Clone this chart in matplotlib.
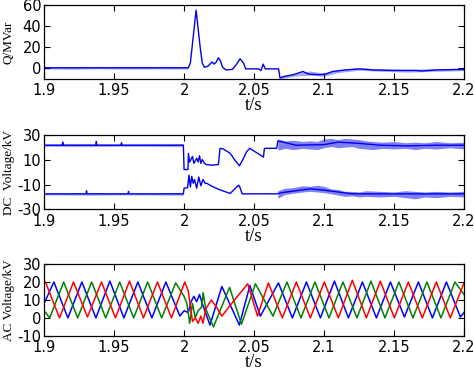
import matplotlib
matplotlib.use("Agg")
import matplotlib.pyplot as plt

# ---- reactive power Q (MVar) ----
q_t = [1.9, 1.95, 2.003,
       2.0045, 2.0086, 2.0115, 2.013, 2.0145, 2.017, 2.020, 2.0215, 2.023,
       2.0245, 2.026, 2.0275, 2.030, 2.0345, 2.037, 2.040, 2.0425, 2.044,
       2.053, 2.055, 2.0565, 2.058, 2.0675, 2.0685, 2.072, 2.078, 2.085,
       2.089, 2.097, 2.101, 2.106, 2.115, 2.125, 2.135, 2.15, 2.165, 2.17,
       2.18, 2.2]
q_v = [0.5, 0.5, 0.5,
       5, 55, 20, 5, 1, 2, 6, 4, 6,
       10, 7, 1, -1.5, -1, 3, 9, 5, -0.5,
       -0.5, -2, 4, -0.5, -0.5, -9, -7.5, -6, -3,
       -5.5, -6, -5.5, -3, -1.5, -0.5, -1.5, -2, -2, -2.5,
       -1.5, -1]
# noise envelope of the Q trace
q_noise_t = [1.9, 1.92, 1.94, 1.96, 1.98, 2.003]
q_noise_hi = [1.8, 1.6, 1.9, 1.5, 1.8, 1.6]
q_noise_lo = [-0.6, -0.8, -0.5, -0.7, -0.6, -0.6]
q_noise2_t = [2.068, 2.08, 2.09, 2.1, 2.11, 2.125, 2.14, 2.16, 2.18, 2.2]
q_noise2_hi = [-7.5, -5, -2.5, -4.5, -1.5, 0.5, -0.5, -0.8, -0.3, 0.2]
q_noise2_lo = [-10, -7.2, -6.5, -7.5, -4, -1.8, -2.8, -3.6, -2.8, -2.2]

# ---- DC voltages (kV) ----
dcp_t = [1.9, 1.913, 1.9133, 1.9137, 1.937, 1.9373, 1.9377, 1.955, 1.9553,
         1.9557, 1.9995, 2.0, 2.0028,
         2.0031, 2.004, 2.006, 2.007, 2.009, 2.010, 2.011, 2.012, 2.013,
         2.0145, 2.016, 2.020, 2.0245, 2.0257, 2.028, 2.033, 2.036, 2.0395,
         2.042, 2.0448, 2.047, 2.0567, 2.0574, 2.0662, 2.067, 2.08, 2.1,
         2.11, 2.125, 2.14, 2.16, 2.18, 2.2]
dcp_v = [21.5, 21.5, 24, 21.5, 21.5, 24.5, 21.5, 21.5, 23.5,
         21.5, 21.5, 2, 2,
         15, 8, 12.5, 7, 11, 8, 13, 7, 10,
         7, 6, 5.5, 6, 19, 18.5, 15, 10, 5,
         10, 16.5, 19, 12, 19, 19, 25, 21.5, 22,
         24, 23, 21.5, 21, 21.5, 21.5]
dcp_noise_t = [1.9, 1.93, 1.96, 1.9995]
dcp_noise_hi = [22.6, 22.8, 22.6, 22.8]
dcp_noise_lo = [20.6, 20.4, 20.6, 20.4]
dcp_noise2_t = [2.067, 2.072, 2.078, 2.085, 2.09, 2.095, 2.1, 2.105, 2.11,
                2.115, 2.12, 2.125, 2.13, 2.135, 2.142, 2.15, 2.158, 2.165,
                2.172, 2.18, 2.19, 2.2]
dcp_noise2_hi = [26.5, 25, 25.5, 24.5, 25, 24.5, 26.5, 27, 26, 27, 26.5, 26,
                 25, 24.5, 24, 24.5, 23.5, 24, 23.5, 24.5, 23.5, 24]
dcp_noise2_lo = [17.5, 19, 18, 19, 18.5, 18, 19.5, 20.5, 19.5, 20, 20.5, 19,
                 18.5, 18, 19, 18.5, 19, 18, 19, 18.5, 19.5, 18.5]

dcn_t = [1.9, 1.93, 1.9303, 1.9307, 1.96, 1.9603, 1.9607, 1.9995, 2.0,
         2.0025, 2.0035,
         2.0045, 2.0055, 2.0065, 2.0075, 2.009, 2.0105, 2.012, 2.0135,
         2.015, 2.0162, 2.020, 2.025, 2.0329, 2.039, 2.0398, 2.0415, 2.0662,
         2.07, 2.09, 2.1, 2.12, 2.2]
dcn_v = [-17.5, -17.5, -15, -17.5, -17.5, -15.5, -17.5, -17.5, -13,
         -12.5, -2.5,
         -12, -3.5, -9, -6, -13, -4, -11, -6, -9, -9, -11.5, -14, -17.2,
         -10.5, -12, -17.5, -17.5,
         -16.5, -13.5, -14.5, -17.5, -17.5]
dcn_noise_t = [1.9, 1.93, 1.96, 1.9995]
dcn_noise_hi = [-16.6, -16.4, -16.6, -16.4]
dcn_noise_lo = [-18.4, -18.6, -18.4, -18.6]
dcn_noise2_t = [2.067, 2.072, 2.078, 2.085, 2.09, 2.095, 2.1, 2.105, 2.11,
                2.115, 2.12, 2.125, 2.13, 2.14, 2.15, 2.158, 2.165, 2.172,
                2.18, 2.19, 2.2]
dcn_noise2_hi = [-15, -13, -12.5, -11, -11.5, -10.5, -11.5, -13.5, -14,
                 -15.5, -15.5, -16, -15, -15.5, -16, -15, -15.5, -16, -15.5,
                 -16, -15.5]
dcn_noise2_lo = [-21, -18, -17, -16, -15.5, -16, -16.5, -17.5, -18.5,
                 -19.5, -19, -20, -19.5, -20, -19.5, -20.5, -21.5, -20,
                 -20.5, -19.5, -20]

# ---- AC phase voltages (kV), extrema ----
ac_red_t = [1.9, 1.901, 1.911, 1.921, 1.931, 1.941, 1.951, 1.961, 1.971,
            1.981, 1.991, 2.0005, 2.003, 2.006, 2.008, 2.010, 2.012, 2.0135,
            2.0155, 2.0195, 2.024, 2.027, 2.036, 2.0455, 2.0525, 2.0602,
            2.0702, 2.0802, 2.0902, 2.1002, 2.1102, 2.1202, 2.1302, 2.1402,
            2.1502, 2.1602, 2.1702, 2.1802, 2.1902, 2.2]
ac_red_v = [19.5, 20, 0, 20, 0.5, 20, 0, 20.5, 0,
            20, 0, 20, 15, -2, 0, -3, 1, -3,
            5, 10, 5, 1, 10, 19, 1, 19.5,
            0, 20, 0, 20, 0, 21, 0, 20.5,
            0, 20, 0, 20, 0, 19.5]

ac_blue_t = [1.9, 1.907, 1.917, 1.927, 1.937, 1.947, 1.957, 1.967, 1.977,
             1.987, 1.997, 2.0, 2.003, 2.005, 2.007, 2.009, 2.011, 2.013,
             2.0185, 2.027, 2.0395, 2.047, 2.0545, 2.0674, 2.0774, 2.0874,
             2.0974, 2.1074, 2.1174, 2.1274, 2.1374, 2.1474, 2.1574, 2.1674,
             2.1774, 2.1874, 2.1974, 2.2]
ac_blue_v = [8, 20, 0, 20, 0, 20.5, 0, 20, 0,
             20, 1, 4, 3, 9, 12, 9, 13, 8,
             -4, 17.5, -4, 18, 1, 19.5, 0, 20,
             0, 20.5, 0, 20, 0, 20, 0.5, 20,
             0, 20, 0.5, 3]

ac_green_t = [1.9, 1.904, 1.914, 1.924, 1.934, 1.944, 1.954, 1.964, 1.974,
              1.984, 1.994, 2.0, 2.002, 2.004, 2.006, 2.008, 2.010, 2.0125,
              2.0136, 2.0155, 2.021, 2.0325, 2.041, 2.051, 2.0635, 2.0735,
              2.0835, 2.0935, 2.1035, 2.1135, 2.1235, 2.1335, 2.1435, 2.1535,
              2.1635, 2.1735, 2.1835, 2.1935, 2.2]
ac_green_v = [4, 0, 20, 0, 20, 0, 20, 0, 20,
              0, 19.5, 12, 8, -3, 8, 0, 4, 6,
              14, 5, -5, 17, -3.5, 19, 1, 20,
              0, 20, 0, 20, 0, 20.5, 0, 20,
              0, 20, 0, 20, 13]

xticks = [1.9, 1.95, 2, 2.05, 2.1, 2.15, 2.2]
xticklabels = ['1.9', '1.95', '2', '2.05', '2.1', '2.15', '2.2']

fig = plt.figure(figsize=(4.74, 3.74), dpi=100)
ax1 = fig.add_axes([0.093, 0.789, 0.886, 0.198])
ax2 = fig.add_axes([0.093, 0.440, 0.886, 0.200])
ax3 = fig.add_axes([0.093, 0.102, 0.886, 0.192])

blue = '#0000ee'
ax1.fill_between(q_noise_t, q_noise_lo, q_noise_hi, color=blue, alpha=0.35,
                 lw=0)
ax1.fill_between(q_noise2_t, q_noise2_lo, q_noise2_hi, color=blue,
                 alpha=0.35, lw=0)
ax1.plot(q_t, q_v, color=blue, lw=1.0)

for nt, lo, hi, a in [(dcp_noise_t, dcp_noise_lo, dcp_noise_hi, 0.35),
                      (dcn_noise_t, dcn_noise_lo, dcn_noise_hi, 0.35),
                      (dcp_noise2_t, dcp_noise2_lo, dcp_noise2_hi, 0.5),
                      (dcn_noise2_t, dcn_noise2_lo, dcn_noise2_hi, 0.5)]:
    ax2.fill_between(nt, lo, hi, color=blue, alpha=a, lw=0)
ax2.plot(dcp_t, dcp_v, color=blue, lw=1.0)
ax2.plot(dcn_t, dcn_v, color=blue, lw=1.0)

ax3.plot(ac_blue_t, ac_blue_v, color='#0000ff', lw=1.1)
ax3.plot(ac_green_t, ac_green_v, color='#008000', lw=1.1)
ax3.plot(ac_red_t, ac_red_v, color='#ff0000', lw=1.1)

ylims = [(-10, 60), (-30, 30), (-10, 30)]
yticks = [[0, 20, 40, 60], [-30, -10, 10, 30], [-10, 0, 10, 20, 30]]
ylabels = ['Q/MVar', 'DC  Voltage/kV', 'AC Voltage/kV']
for ax, yl, yt, lab in zip([ax1, ax2, ax3], ylims, yticks, ylabels):
    ax.set_xlim(1.9, 2.2)
    ax.set_ylim(*yl)
    ax.set_xticks(xticks)
    ax.set_xticklabels(xticklabels, fontsize=10.5, family='DejaVu Sans')
    ax.set_yticks(yt)
    ax.set_yticklabels([str(v) for v in yt], fontsize=10.5,
                       family='DejaVu Sans')
    ax.tick_params(direction='in', top=True, right=True, length=4,
                   width=0.8)
    ax.tick_params(axis='y', pad=2)
    ax.tick_params(axis='x', pad=3)
    for s in ax.spines.values():
        s.set_linewidth(0.9)
    ax.set_xlabel('t/s', family='Liberation Serif', fontsize=13.5)
    ax.xaxis.set_label_coords(0.5, -0.25)
    ax.set_ylabel(lab, family='Liberation Serif', fontsize=9.5)
    ax.yaxis.set_label_coords(-0.07, 0.5)

fig.savefig('out.png', dpi=100)
